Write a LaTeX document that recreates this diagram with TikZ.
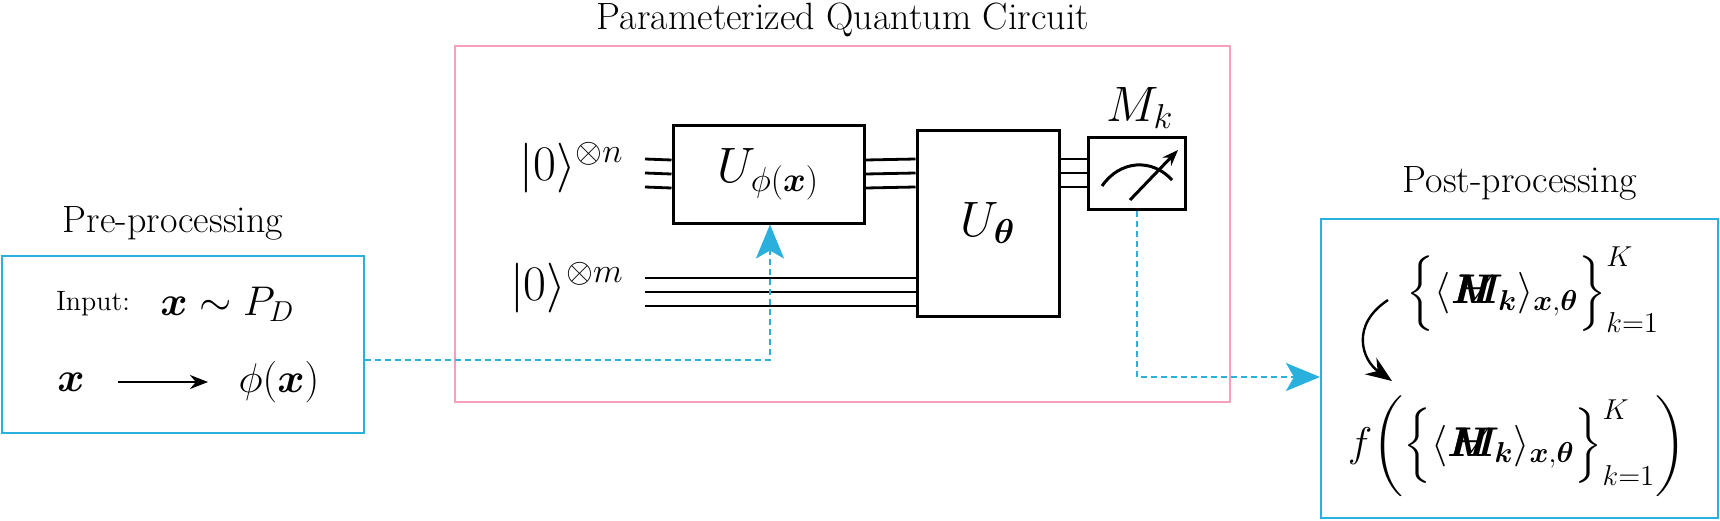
\documentclass[tikz,border=0pt]{standalone}
\usepackage{amsmath,amssymb,bm,mathtools}
\usetikzlibrary{arrows.meta,calc}
\definecolor{cblue}{RGB}{41,176,220}
\definecolor{cpink}{RGB}{245,160,190}
\begin{document}
\begin{tikzpicture}[x=0.5pt,y=-0.5pt,
  gate/.style={draw,line width=1.5pt,minimum width=#1,inner sep=0pt},
  wire/.style={line width=1.4pt},
  frame/.style={draw=cblue,line width=1pt,inner sep=0pt},
  lbl/.style={font=\fontsize{19}{22}\selectfont,inner sep=0pt},
  big/.style={font=\fontsize{21}{25}\selectfont,inner sep=0pt},
  flow/.style={draw=cblue,line width=1.2pt,dash pattern=on 3pt off 2pt,-{Stealth[length=17pt,width=14pt,inset=4pt]}}]
\useasboundingbox (0,0) rectangle (1720,520);
% frames
\node[frame,minimum width=181pt,minimum height=88.5pt] (pre) at (183,344.5) {};
\node[frame,draw=cpink,minimum width=387.5pt,minimum height=178pt] (pqc) at (842.5,224) {};
\node[frame,minimum width=198.5pt,minimum height=149.5pt] (post) at (1519.5,368.5) {};
\node[lbl] (tpre) at (173,223) {Pre-processing};
\node[lbl] (tpqc) at (843,20) {Parameterized Quantum Circuit};
\node[lbl] (tpost) at (1520,183) {Post-processing};
% pre content
\node[font=\fontsize{14}{16}\selectfont,inner sep=0pt] (inp) at (93,304) {Input:};
\node[big,anchor=west] (dist) at (160,304) {$\bm{x}\sim P_D$};
\node[big] (x) at (71,382) {$\bm{x}$};
\node[big] (phx) at (279,382) {$\phi(\bm{x})$};
\draw[line width=1.2pt,-{Stealth[length=9pt,width=7pt]}] (118,382) -- (208,382);
% gates
\node[gate=95.5pt,minimum height=49pt,font=\fontsize{25}{30}\selectfont] (uphi) at (768.5,174) {$U_{\phi(\bm{x})}$};
\node[gate=71pt,minimum height=93pt,font=\fontsize{25}{30}\selectfont] (uth) at (988,223) {$U_{\bm{\theta}}$};
\node[gate=48.5pt,minimum height=36pt] (meas) at (1136.5,173) {};
\node[font=\fontsize{25}{30}\selectfont,inner sep=0pt] (mk) at (1140,108) {$M_k$};
\node[font=\fontsize{25}{30}\selectfont,inner sep=0pt,anchor=east] (kn) at (624,168) {$|0\rangle^{\otimes n}$};
\node[font=\fontsize{25}{30}\selectfont,inner sep=0pt,anchor=east] (km) at (624,288) {$|0\rangle^{\otimes m}$};
\coordinate (ws) at (645,173);
\foreach \d in {-14,0,14}{
  \draw[wire] ($(ws)+(0,\d)$) -- ($(uphi.west)+(0,\d)$);
  \draw[wire] ($(uphi.east)+(0,\d)$) -- ($(uth.west |- ws)+(0,\d)$);
  \draw[wire] ($(uth.east |- ws)+(0,\d)$) -- ($(meas.west)+(0,\d)$);
  \draw[wire] ($(ws)+(0,292+\d-173)$) -- ($(uth.west |- 0,292)+(0,\d)$);
}
% meter
\draw[line width=1.5pt] (1102,186) .. controls (1120,160) and (1152,158) .. (1172,180);
\draw[line width=1.5pt,-{Stealth[length=8pt,width=6pt]}] (1130,200) -- (1178,150);
% flows
\coordinate (c1) at (770,360);
\draw[flow] (pre.east |- c1) -- (c1) -- (uphi.south -| c1);
\coordinate (c2) at (1137,377);
\draw[flow] (meas.south -| c2) -- (c2) -- (post.west |- c2);
% post
\node[big] (e1) at (1533,290) {$\Bigl\{\langle \mathrlap{\bm{H}}\bm{M}_{\bm{k}}\rangle_{\bm{x},\bm{\theta}}\Bigr\}_{k=1}^{K}$};
\node[big] (e2) at (1517,446) {$f\biggl(\Bigl\{\langle \mathrlap{\bm{H}}\bm{M}_{\bm{k}}\rangle_{\bm{x},\bm{\theta}}\Bigr\}_{k=1}^{K}\biggr)$};
\draw[line width=1.2pt,-{Stealth[length=13pt,width=10pt]}] (1388,300) .. controls (1350,325) and (1362,360) .. (1392,381);
\end{tikzpicture}
\end{document}
